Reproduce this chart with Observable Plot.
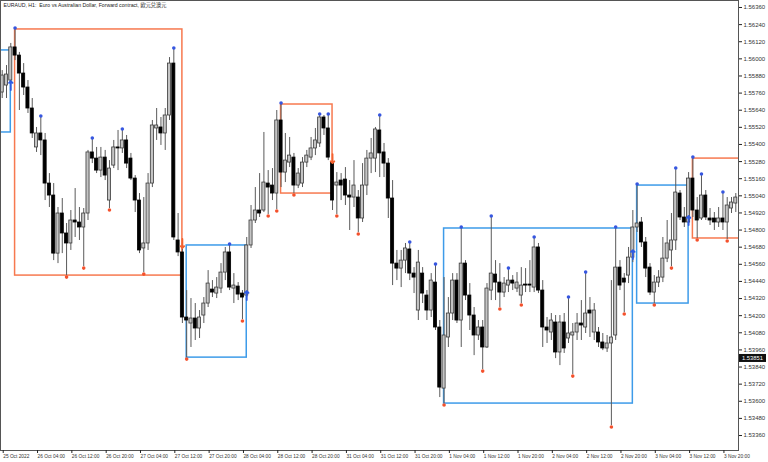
<!DOCTYPE html>
<html><head><meta charset="utf-8">
<script src="https://cdn.jsdelivr.net/npm/d3@7"></script>
<script src="https://cdn.jsdelivr.net/npm/@observablehq/plot@0.6"></script>
<style>body{margin:0;background:#fff;} #chart{width:768px;height:462px;}</style>
</head><body><div id="chart"></div>
<script>
const title = "EURAUD, H1:  Euro vs Australian Dollar, Forward contract, 欧元兑澳元";

const opens = [
1.55764,1.55813,1.55848,1.56080,1.56023,1.55897,1.55799,1.55652,1.55379,1.55477,
1.55428,1.55126,1.55042,1.54635,1.54916,1.54776,1.54706,1.54867,1.54853,1.54818,
1.54916,1.55344,1.55301,1.55217,1.55308,1.55007,1.55252,1.55379,1.55372,1.55428,
1.55301,1.55161,1.55007,1.54671,1.54706,1.55126,1.55512,1.55519,1.55477,1.55603,
1.55967,1.54727,1.54643,1.54187,1.54145,1.54180,1.54110,1.54201,1.54285,1.54383,
1.54355,1.54390,1.54502,1.54643,1.54390,1.54404,1.54355,1.54341,1.54692,1.54867,
1.54937,1.54937,1.55126,1.55112,1.55056,1.55568,1.55203,1.55273,1.55308,1.55112,
1.55126,1.55273,1.55308,1.55372,1.55407,1.55589,1.55512,1.55273,1.55112,1.55147,
1.55154,1.55042,1.55028,1.55028,1.54881,1.55112,1.55301,1.55301,1.55498,1.55344,
1.55266,1.55021,1.54565,1.54530,1.54586,1.54664,1.54495,1.54236,1.54495,1.54341,
1.54236,1.54432,1.54117,1.53689,1.54047,1.54215,1.54446,1.54166,1.54565,1.54341,
1.54201,1.54061,1.54117,1.53977,1.54376,1.54488,1.54432,1.54362,1.54411,1.54446,
1.54390,1.54341,1.54418,1.54418,1.54397,1.54678,1.54376,1.54117,1.54082,1.54152,
1.53942,1.54152,1.54040,1.54061,1.54082,1.54145,1.54117,1.54236,1.54082,1.54082,
1.54012,1.53970,1.54005,1.54061,1.54537,1.54460,1.54481,1.54607,1.54818,1.54853,
1.54713,1.54537,1.54362,1.54432,1.54467,1.54600,1.54657,1.54727,1.55056,1.54888,
1.54853,1.55161,1.54937,1.54881,1.55042,1.54881,1.54881,1.54853,1.54881,1.54853,
1.54951,1.54986];

const highs = [
1.55918,1.55953,1.56108,1.56206,1.56045,1.55967,1.55848,1.55722,1.55519,1.55589,
1.55477,1.55196,1.55126,1.54958,1.55021,1.54846,1.54937,1.55091,1.54958,1.54951,
1.55358,1.55435,1.55379,1.55379,1.55358,1.55287,1.55428,1.55498,1.55498,1.55463,
1.55337,1.55182,1.55056,1.55028,1.55196,1.55568,1.55652,1.55589,1.55652,1.56009,
1.56066,1.54916,1.54706,1.54376,1.54320,1.54285,1.54236,1.54327,1.54516,1.54446,
1.54467,1.54565,1.54678,1.54692,1.54495,1.54432,1.54376,1.54748,1.54972,1.55098,
1.55196,1.55484,1.55217,1.55231,1.55638,1.55680,1.55477,1.55449,1.55337,1.55231,
1.55308,1.55358,1.55449,1.55512,1.55603,1.55603,1.55603,1.55308,1.55203,1.55196,
1.55238,1.55147,1.55287,1.55077,1.55266,1.55358,1.55442,1.55519,1.55596,1.55407,
1.55301,1.55147,1.54657,1.54657,1.54706,1.54706,1.54537,1.54657,1.54537,1.54376,
1.54495,1.54551,1.54166,1.54467,1.54327,1.54495,1.54495,1.54811,1.54586,1.54425,
1.54257,1.54166,1.54166,1.54425,1.54888,1.54586,1.54565,1.54467,1.54523,1.54481,
1.54502,1.54537,1.54530,1.54586,1.54741,1.54706,1.54446,1.54187,1.54215,1.54201,
1.54201,1.54215,1.54320,1.54145,1.54215,1.54306,1.54495,1.54327,1.54285,1.54117,
1.54075,1.54061,1.54446,1.54811,1.54586,1.54495,1.54678,1.54937,1.55112,1.54888,
1.54748,1.54565,1.54481,1.54516,1.54748,1.54867,1.54916,1.55224,1.55077,1.54958,
1.55203,1.55301,1.55028,1.55182,1.55077,1.54951,1.54923,1.54958,1.55056,1.55028,
1.55028,1.55056];

const lows = [
1.55722,1.55722,1.55827,1.55988,1.55638,1.55743,1.55617,1.55442,1.55344,1.55322,
1.55007,1.54958,1.54586,1.54565,1.54635,1.54481,1.54657,1.54748,1.54727,1.54544,
1.54867,1.55266,1.55196,1.55168,1.55147,1.54951,1.55231,1.55217,1.55337,1.55231,
1.55147,1.54923,1.54635,1.54502,1.54657,1.55098,1.55428,1.55393,1.55358,1.55568,
1.54727,1.54614,1.54145,1.53906,1.53977,1.54026,1.54040,1.54145,1.54257,1.54327,
1.54320,1.54355,1.54446,1.54376,1.54285,1.54306,1.54173,1.54327,1.54671,1.54846,
1.54888,1.54923,1.54909,1.55007,1.54944,1.55098,1.55133,1.55238,1.55056,1.55091,
1.55098,1.55238,1.55287,1.55322,1.55379,1.55463,1.55287,1.54937,1.54909,1.55007,
1.54972,1.54797,1.54958,1.54783,1.54853,1.55042,1.55196,1.55203,1.55168,1.55168,
1.54881,1.54411,1.54446,1.54397,1.54495,1.54446,1.54355,1.54166,1.54285,1.54166,
1.54187,1.54096,1.53626,1.53584,1.53977,1.54166,1.54145,1.53977,1.54306,1.54096,
1.53920,1.54026,1.53822,1.53970,1.54306,1.54306,1.54257,1.54327,1.54362,1.54376,
1.54362,1.54285,1.54362,1.54362,1.54362,1.54355,1.53977,1.54005,1.54026,1.53899,
1.53850,1.53935,1.54005,1.53787,1.54026,1.54026,1.54075,1.54047,1.54026,1.53977,
1.53955,1.53942,1.53430,1.54026,1.54376,1.54222,1.54425,1.54572,1.54783,1.54678,
1.54467,1.54341,1.54285,1.54397,1.54432,1.54572,1.54544,1.54657,1.54867,1.54818,
1.54846,1.54888,1.54741,1.54867,1.54867,1.54832,1.54797,1.54818,1.54797,1.54734,
1.54916,1.54923];

const closes = [
1.55883,1.55890,1.56080,1.56023,1.55897,1.55799,1.55652,1.55477,1.55477,1.55428,
1.55126,1.55042,1.54635,1.54916,1.54776,1.54706,1.54867,1.54853,1.54818,1.54916,
1.55344,1.55301,1.55217,1.55308,1.55182,1.55231,1.55379,1.55372,1.55428,1.55266,
1.55161,1.55007,1.54657,1.54706,1.55126,1.55533,1.55533,1.55477,1.55603,1.55967,
1.54748,1.54643,1.54187,1.54166,1.54180,1.54110,1.54187,1.54285,1.54425,1.54362,
1.54397,1.54502,1.54643,1.54397,1.54411,1.54348,1.54327,1.54692,1.54867,1.54937,
1.54916,1.55133,1.55098,1.55056,1.55568,1.55203,1.55287,1.55322,1.55112,1.55196,
1.55273,1.55322,1.55372,1.55428,1.55589,1.55512,1.55308,1.55007,1.55133,1.55112,
1.55042,1.55028,1.55112,1.54881,1.55112,1.55301,1.55337,1.55505,1.55337,1.55266,
1.55021,1.54565,1.54530,1.54586,1.54671,1.54495,1.54467,1.54572,1.54355,1.54236,
1.54446,1.54117,1.53696,1.54061,1.54215,1.54446,1.54166,1.54565,1.54341,1.54201,
1.54061,1.54117,1.53977,1.54390,1.54495,1.54432,1.54362,1.54425,1.54446,1.54425,
1.54432,1.54411,1.54411,1.54411,1.54678,1.54376,1.54117,1.54096,1.54166,1.53942,
1.54152,1.53970,1.54075,1.54082,1.54145,1.54131,1.54215,1.54215,1.54236,1.54012,
1.53970,1.54005,1.54047,1.54537,1.54411,1.54432,1.54607,1.54818,1.54846,1.54713,
1.54530,1.54362,1.54432,1.54467,1.54600,1.54706,1.54727,1.55063,1.54888,1.54853,
1.55161,1.54937,1.54867,1.55042,1.54888,1.54867,1.54853,1.54881,1.54853,1.54972,
1.54993,1.55028];

const timeBars = [0,8,16,24,32,40,48,56,64,72,80,88,96,104,112,120,128,136,144,152,160,168];
const timeLabels = ["25 Oct 2022","26 Oct 04:00","26 Oct 12:00","26 Oct 20:00","27 Oct 04:00","27 Oct 12:00","27 Oct 20:00","28 Oct 04:00","28 Oct 12:00","28 Oct 20:00","31 Oct 04:00","31 Oct 12:00","31 Oct 20:00","1 Nov 04:00","1 Nov 12:00","1 Nov 20:00","2 Nov 04:00","2 Nov 12:00","2 Nov 20:00","3 Nov 04:00","3 Nov 12:00","3 Nov 20:00"];
const priceTicks = [1.56360,1.56240,1.56120,1.56000,1.55880,1.55760,1.55640,1.55520,1.55400,1.55280,1.55160,1.55040,1.54920,1.54800,1.54680,1.54560,1.54440,1.54320,1.54200,1.54080,1.53960,1.53840,1.53720,1.53600,1.53480,1.53360];
const lastPrice = 1.53851;
const lastPriceSlot = [1.53960, 1.53840];

const boxStart = [-1, 3, 43, 65, 103, 148, 161];
const boxEnd = [2, 42, 57, 77, 147, 160, 173];
const boxTop = [1.56059, 1.56206, 1.54692, 1.55680, 1.54811, 1.55112, 1.55301];
const boxBottom = [1.55484, 1.54481, 1.53906, 1.55056, 1.53584, 1.54285, 1.54741];
const boxDirection = ["up","down","up","down","up","up","down"];

const highMarkBars = [3,9,21,28,40,53,65,74,76,88,95,101,107,114,118,124,132,136,143,148,157,161,163,168];
const lowMarkBars = [15,19,25,33,43,56,62,64,68,78,83,103,112,116,121,133,142,145,152,156,162,169];

const upArrowBars = [2,57,147,160];
const upArrowPrices = [1.55813,1.54341,1.54628,1.54867];
const downArrowBars = [42,77];
const downArrowPrices = [1.54706,1.55301];

const candles = opens.map((o,i)=>({i, open:o, high:highs[i], low:lows[i], close:closes[i]}));
const boxes = boxStart.map((s,k)=>({x1:s, x2:boxEnd[k], top:boxTop[k], bottom:boxBottom[k], dir:boxDirection[k]}));
const highMarks = highMarkBars.map(i=>({i, p:highs[i]}));
const lowMarks = lowMarkBars.map(i=>({i, p:lows[i]}));
const ups = upArrowBars.map((b,k)=>({i:b, p:upArrowPrices[k]}));
const downs = downArrowBars.map((b,k)=>({i:b, p:downArrowPrices[k]}));

const plot = Plot.plot({
  width:768, height:462, marginTop:0, marginLeft:0, marginRight:30, marginBottom:12,
  style:{fontFamily:"'Liberation Sans', Arial, 'Noto Sans CJK SC', sans-serif", background:"#fff", color:"#222"},
  x:{type:"linear", domain:[-0.4,171.63]},
  y:{domain:[1.53255,1.56409]},
  marks:[
    Plot.rect(boxes, {x1:"x1", x2:"x2", y1:"bottom", y2:"top", fill:"none", stroke:d=>d.dir==="up"?"#3d9be9":"#f7794f", strokeWidth:1.5, clip:true}),
    Plot.ruleX(candles, {x:"i", y1:"low", y2:"high", stroke:"#5a5a5a", strokeWidth:1}),
    Plot.rect(candles, {x1:d=>d.i-0.36, x2:d=>d.i+0.36, y1:"open", y2:"close", fill:d=>d.close>=d.open?"#c4c4c4":"#000", stroke:d=>d.close>=d.open?"#3a3a3a":"#000", strokeWidth:0.8}),
    Plot.dot(highMarks, {x:"i", y:"p", r:1.8, fill:"#3656e0", dy:-1.5}),
    Plot.dot(lowMarks, {x:"i", y:"p", r:1.8, fill:"#f4512c", dy:1.5}),
    Plot.vector(ups, {x:"i", y:"p", length:9, rotate:0, anchor:"middle", shape:"arrow", stroke:"#2f5be3", strokeWidth:1.8}),
    Plot.vector(downs, {x:"i", y:"p", length:9, rotate:180, anchor:"middle", shape:"arrow", stroke:"#f4612f", strokeWidth:1.8}),
    Plot.frame({stroke:"#555"}),
    Plot.axisY({anchor:"right", ticks:priceTicks, tickFormat:d=>d.toFixed(5), tickSize:3, tickPadding:2, fontSize:6, fill:"#333", label:null}),
    Plot.axisX({anchor:"bottom", ticks:timeBars, tickFormat:d=>timeLabels[timeBars.indexOf(d)], tickSize:3, tickPadding:1, textAnchor:"start", dx:1, fontSize:4.8, fill:"#333", label:null}),
    Plot.text([title], {frameAnchor:"top-left", dx:3, dy:3, lineAnchor:"top", textAnchor:"start", fontSize:5.2, fill:"#222"})
  ]
});

// last-price badge on the price scale, placed in the free slot between two tick labels
const ys = plot.scale("y");
const py = (ys.apply(lastPriceSlot[0]) + ys.apply(lastPriceSlot[1])) / 2;
const g = d3.select(plot).append("g");
g.append("rect").attr("x",739).attr("y",py-4).attr("width",27).attr("height",8).attr("fill","#111");
g.append("text").attr("x",742).attr("y",py).attr("dy","0.35em").attr("text-anchor","start")
  .attr("fill","#fff").attr("font-size",5.8)
  .attr("font-family","'Liberation Sans', Arial, sans-serif").text(lastPrice.toFixed(5));

document.getElementById("chart").appendChild(plot);
</script>
</body></html>
